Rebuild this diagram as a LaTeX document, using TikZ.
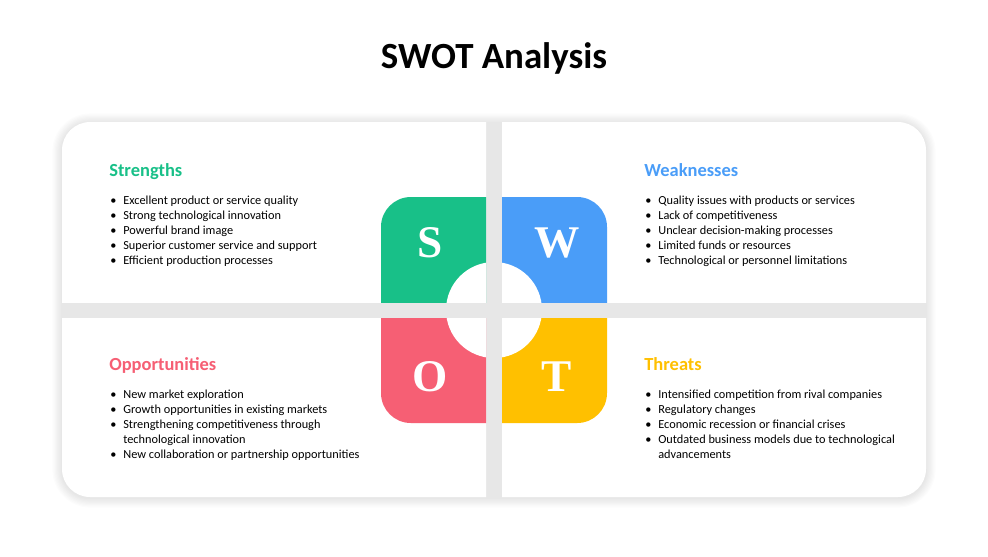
\documentclass[tikz,border=0pt]{standalone}
\usepackage{fontspec}
\setmainfont{Carlito}
\newfontfamily\letterfont{Liberation Serif}
\usetikzlibrary{positioning}
\definecolor{swotgreen}{RGB}{24,192,136}
\definecolor{swotblue}{RGB}{74,157,248}
\definecolor{swotred}{RGB}{246,95,116}
\definecolor{swotyellow}{RGB}{255,192,0}
\newcommand{\bul}{\makebox[7.4pt][l]{\textbullet}}

\begin{document}
\begin{tikzpicture}[
    x=0.02cm, y=-0.02cm,
    title node/.style={font=\fontsize{21}{25}\selectfont\bfseries},
    head node/.style={anchor=base west,inner sep=0pt,font=\fontsize{10.5}{12.6}\selectfont\bfseries},
    list node/.style={anchor=north west,inner sep=0pt,align=left,font=\fontsize{7}{8.53}\selectfont},
    letter node/.style={text=white,font=\fontsize{25.8}{30}\selectfont\letterfont\bfseries},
    shade layer/.style={fill=black,fill opacity=0.013}
]

\useasboundingbox[fill=white] (0,0) rectangle (988,556);

% Title
\node[title node] (title) at (494,58) {SWOT Analysis};

% Soft shadow behind the four panels
\foreach \k in {1,...,8}
  \fill[shade layer,rounded corners={16pt+0.7pt*\k}] (62-1.2*\k,122-1.2*\k+1) rectangle (926+1.2*\k,497+1.2*\k+1);

% Panels (only the outer corner is rounded)
\begin{scope}
  \clip (62,122) rectangle (486,302);
  \fill[white,rounded corners=16pt] (62,122) rectangle (600,420);
\end{scope}
\begin{scope}
  \clip (502,122) rectangle (926,302);
  \fill[white,rounded corners=16pt] (388,122) rectangle (926,420);
\end{scope}
\begin{scope}
  \clip (62,318) rectangle (486,497);
  \fill[white,rounded corners=16pt] (62,200) rectangle (600,497);
\end{scope}
\begin{scope}
  \clip (502,318) rectangle (926,497);
  \fill[white,rounded corners=16pt] (388,200) rectangle (926,497);
\end{scope}

% Center squares with the white circle cut out
\begin{scope}
  \clip (381,197) rectangle (486,302);
  \fill[swotgreen,rounded corners=17pt] (381,197) rectangle (560,380);
  \fill[white] (494,310) circle [radius=48];
\end{scope}
\begin{scope}
  \clip (502,197) rectangle (607,302);
  \fill[swotblue,rounded corners=17pt] (420,197) rectangle (607,380);
  \fill[white] (494,310) circle [radius=48];
\end{scope}
\begin{scope}
  \clip (381,318) rectangle (486,423);
  \fill[swotred,rounded corners=17pt] (381,240) rectangle (560,423);
  \fill[white] (494,310) circle [radius=48];
\end{scope}
\begin{scope}
  \clip (502,318) rectangle (607,423);
  \fill[swotyellow,rounded corners=17pt] (420,240) rectangle (607,423);
  \fill[white] (494,310) circle [radius=48];
\end{scope}

% Letters
\node[letter node] (s) at (430,243) {S};
\node[letter node] (w) at (557,243) {W};
\node[letter node] (o) at (430,377) {O};
\node[letter node] (t) at (557,377) {T};

% Strengths
\node[head node,text=swotgreen] (strengths) at (109,176) {Strengths};
\node[list node] (slist) at (110,195.5) {%
  \bul Excellent product or service quality\\
  \bul Strong technological innovation\\
  \bul Powerful brand image\\
  \bul Superior customer service and support\\
  \bul Efficient production processes};

% Weaknesses
\node[head node,text=swotblue] (weaknesses) at (644,176) {Weaknesses};
\node[list node] (wlist) at (645,195.5) {%
  \bul Quality issues with products or services\\
  \bul Lack of competitiveness\\
  \bul Unclear decision-making processes\\
  \bul Limited funds or resources\\
  \bul Technological or personnel limitations};

% Opportunities
\node[head node,text=swotred] (opportunities) at (109,370) {Opportunities};
\node[list node] (olist) at (110,389.5) {%
  \bul New market exploration\\
  \bul Growth opportunities in existing markets\\
  \bul Strengthening competitiveness through\\
  \phantom{\bul}technological innovation\\
  \bul New collaboration or partnership opportunities};

% Threats
\node[head node,text=swotyellow] (threats) at (644,370) {Threats};
\node[list node] (tlist) at (645,389.5) {%
  \bul Intensified competition from rival companies\\
  \bul Regulatory changes\\
  \bul Economic recession or financial crises\\
  \bul Outdated business models due to technological\\
  \phantom{\bul}advancements};

\end{tikzpicture}
\end{document}
